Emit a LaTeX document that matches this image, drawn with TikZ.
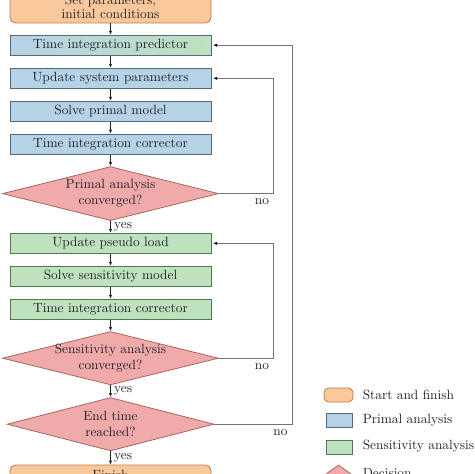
\documentclass[tikz,border=0pt]{standalone}
\usetikzlibrary{shapes.geometric,arrows.meta,calc}
\definecolor{orfill}{RGB}{250,200,155}
\definecolor{ordraw}{RGB}{185,125,80}
\definecolor{blfill}{RGB}{182,210,230}
\definecolor{bldraw}{RGB}{85,105,125}
\definecolor{grfill}{RGB}{190,225,190}
\definecolor{grdraw}{RGB}{80,120,80}
\definecolor{rdfill}{RGB}{240,170,170}
\definecolor{rddraw}{RGB}{170,100,100}
\definecolor{txt}{RGB}{35,35,45}
\definecolor{loopc}{RGB}{115,115,115}
\tikzset{
  base/.style={draw, line width=0.6pt, inner sep=0pt, minimum width=150.75pt, minimum height=15pt, text=txt, font=\normalsize},
  startbox/.style={base, rounded corners=4pt, fill=orfill, draw=ordraw},
  primbox/.style={base, fill=blfill, draw=bldraw},
  sensbox/.style={base, fill=grfill, draw=grdraw},
  decbox/.style={diamond, draw=rddraw, fill=rdfill, line width=0.6pt, inner sep=0pt},
  dectext/.style={align=center, text=txt, inner sep=0pt},
  lbl/.style={text=txt, inner sep=0pt},
  arr/.style={-{Latex[length=3pt,width=2.4pt]}, line width=0.5pt, draw=black!85},
  looparr/.style={-{Latex[length=3pt,width=2.4pt,color=black]}, line width=0.6pt, draw=loopc, shorten >=1.2pt}
}
\begin{document}
\begin{tikzpicture}[x=0.75pt,y=-0.75pt]
\clip (0,0) rectangle (474,474);
\useasboundingbox (0,0) rectangle (474,474);
\fill[white] (0,0) rectangle (474,474);

% main flow
\node[startbox, minimum height=24pt, align=center] (st) at (110.5,7) {Set parameters,\\[-1.5pt]initial conditions};
\node[base, left color=blfill, right color=grfill, draw=bldraw] (p1) at (110.5,45.2) {Time integration predictor};
\node[primbox] (p2) at (110.5,78.3) {Update system parameters};
\node[primbox] (p3) at (110.5,111.3) {Solve primal model};
\node[primbox] (p4) at (110.5,144.1) {Time integration corrector};
\node[decbox, minimum width=162pt, minimum height=40.5pt] (d1) at (110.5,193.6) {};
\node[dectext] (d1t) at (110.5,193.6) {Primal analysis\\converged?};
\node[sensbox] (s1) at (110.5,243.3) {Update pseudo load};
\node[sensbox] (s2) at (110.5,276.3) {Solve sensitivity model};
\node[sensbox] (s3) at (110.5,309.2) {Time integration corrector};
\node[decbox, minimum width=162pt, minimum height=40pt] (d2) at (110.5,358.2) {};
\node[dectext] (d2t) at (110.5,358.2) {Sensitivity analysis\\converged?};
\node[decbox, minimum width=155pt, minimum height=40pt] (d3) at (110.5,424.2) {};
\node[dectext] (d3t) at (110.5,424.2) {End time\\reached?};
\node[startbox] (fin) at (110.5,475) {Finish};

% straight arrows
\draw[arr] (st) -- (p1);
\draw[arr] (p1) -- (p2);
\draw[arr] (p2) -- (p3);
\draw[arr] (p3) -- (p4);
\draw[arr] (p4) -- (d1);
\draw[arr] (d1) -- node[right, lbl, xshift=2.5pt] (y1) {yes} (s1);
\draw[arr] (s1) -- (s2);
\draw[arr] (s2) -- (s3);
\draw[arr] (s3) -- (d2);
\draw[arr] (d2) -- node[right, lbl, xshift=2.5pt] (y2) {yes} (d3);
\draw[arr] (d3) -- node[right, lbl, xshift=2.5pt] (y3) {yes} (fin);

% loops
\coordinate (k1) at (273.5,0);
\coordinate (k2) at (292,0);
\draw[looparr] (d1.east) -- (d1.east -| k1) |- (p2.east);
\draw[looparr] (d2.east) -- (d2.east -| k1) |- (s1.east);
\draw[looparr] (d3.east) -- (d3.east -| k2) |- (p1.east);
\node[lbl] (n1) at (262,201.5) {no};
\node[lbl] (n2) at (262,366.5) {no};
\node[lbl] (n3) at (280.5,432.5) {no};

% legend
\node[startbox, minimum width=21.75pt, minimum height=10.5pt, rounded corners=3.5pt] (lg1) at (338.5,395) {};
\node[primbox, minimum width=19.5pt, minimum height=11pt] (lg2) at (339,420.5) {};
\node[sensbox, minimum width=19.5pt, minimum height=10.5pt] (lg3) at (339,447) {};
\node[decbox, minimum width=21pt, minimum height=15pt] (lg4) at (338.5,475) {};
\node[lbl, anchor=west] (lt1) at (362.5,395) {Start and finish};
\node[lbl, anchor=west] (lt2) at (362.5,420.5) {Primal analysis};
\node[lbl, anchor=west] (lt3) at (362.5,446.5) {Sensitivity analysis};
\node[lbl, anchor=west] (lt4) at (362.5,473) {Decision};
\end{tikzpicture}
\end{document}
